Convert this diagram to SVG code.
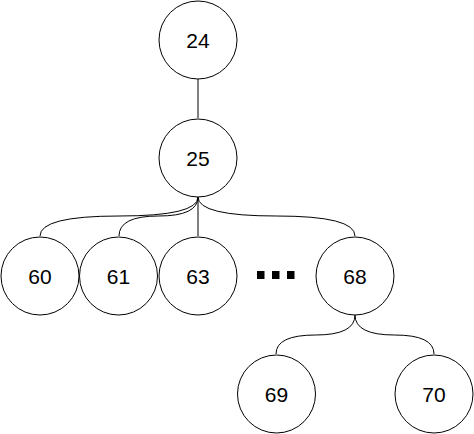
<svg xmlns="http://www.w3.org/2000/svg" width="474" height="434" viewBox="0 0 474 434">
<style>
.n{fill:#fff;stroke:#000;stroke-width:1}
.t{font-family:"Liberation Sans",Arial,sans-serif;font-size:21px;fill:#000;text-anchor:middle;dominant-baseline:central}
.e{fill:none;stroke:#000;stroke-width:1}
</style>
<rect width="474" height="434" fill="#fff"/>
<g id="connectors">
<path class="e" d="M198 79 L198 118"/>
<path class="e" d="M198 197 Q198 216 119 216 Q40 216 40 236"/>
<path class="e" d="M198 197 Q198 216 158.5 216 Q119 216 119 236"/>
<path class="e" d="M198 197 L198 236"/>
<path class="e" d="M198 197 Q198 216 276.5 216 Q355 216 355 236"/>
<path class="e" d="M355 315 Q355 335 315.5 335 Q276 335 276 354"/>
<path class="e" d="M355 315 Q355 335 394.5 335 Q434 335 434 354"/>
</g>
<g id="n24"><circle class="n" cx="198" cy="40" r="39"/><text class="t" x="198" y="40">24</text></g>
<g id="n25"><circle class="n" cx="198" cy="158" r="39"/><text class="t" x="198" y="158">25</text></g>
<g id="n60"><circle class="n" cx="40" cy="276" r="39"/><text class="t" x="40" y="276">60</text></g>
<g id="n61"><circle class="n" cx="118.5" cy="276" r="39"/><text class="t" x="118.5" y="276">61</text></g>
<g id="n63"><circle class="n" cx="198" cy="276" r="39"/><text class="t" x="198" y="276">63</text></g>
<g id="n68"><circle class="n" cx="355" cy="276" r="39"/><text class="t" x="355" y="276">68</text></g>
<g id="n69"><circle class="n" cx="276.5" cy="394" r="39"/><text class="t" x="276.5" y="394">69</text></g>
<g id="n70"><circle class="n" cx="434" cy="394" r="39"/><text class="t" x="434" y="394">70</text></g>
<g id="dots" fill="#000">
<rect x="257" y="271" width="7.5" height="8"/>
<rect x="272" y="271" width="7.5" height="8"/>
<rect x="287" y="271" width="7.5" height="8"/>
</g>
</svg>
